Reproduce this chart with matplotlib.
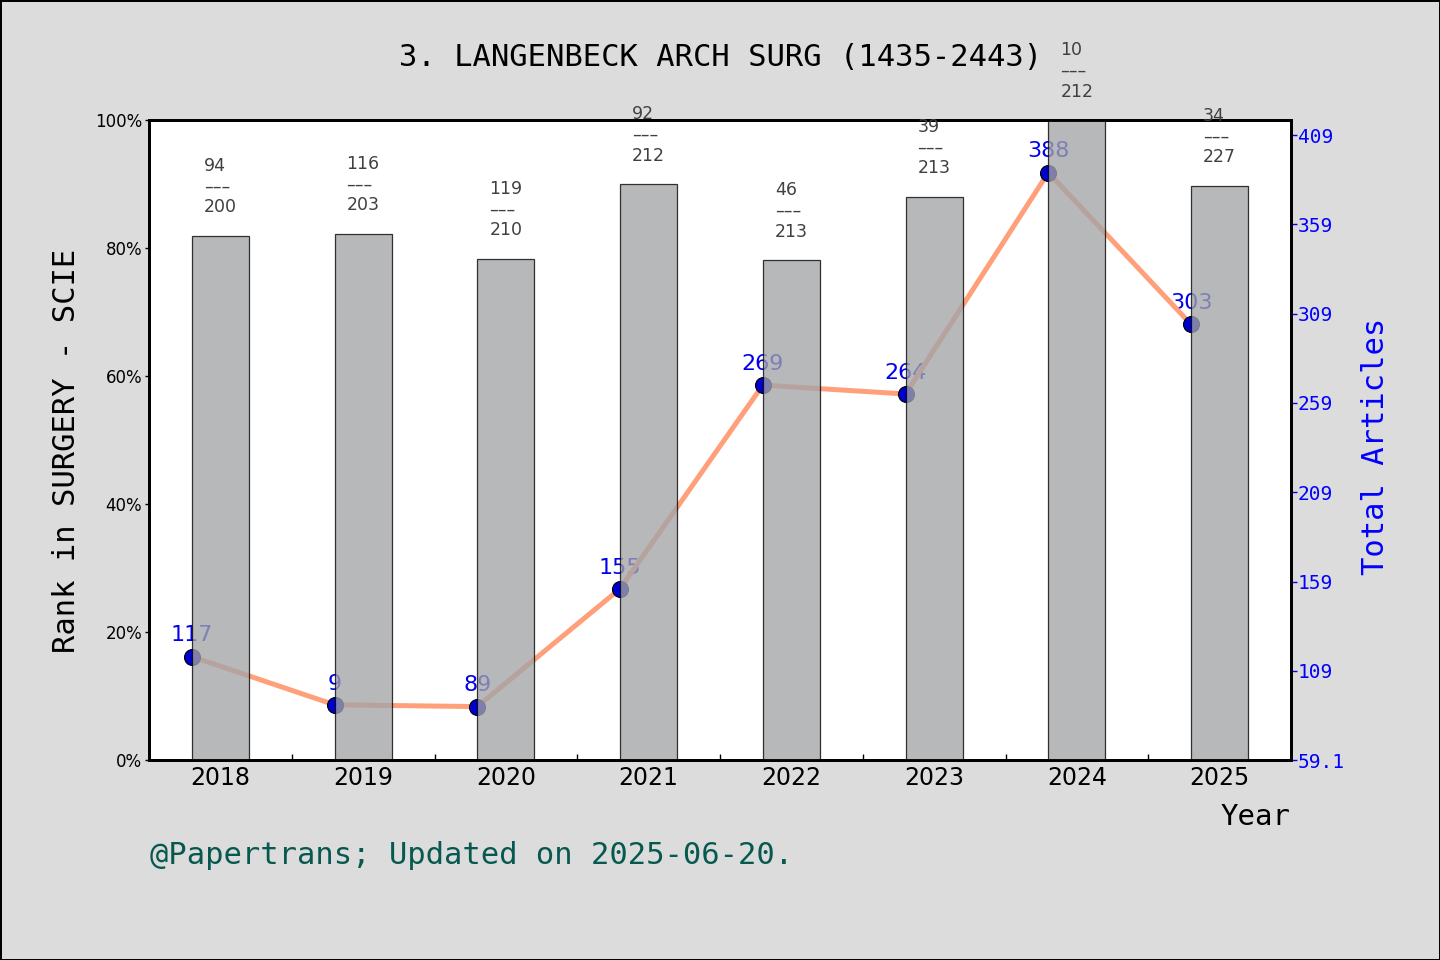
import numpy as np
import matplotlib
matplotlib.use('Agg')
from matplotlib import pyplot as plt
from matplotlib.ticker import PercentFormatter

years = ['2018', '2019', '2020', '2021', '2022', '2023', '2024', '2025']
rank = [94, 116, 119, 92, 46, 39, 10, 34]
total = [200, 203, 210, 212, 213, 213, 212, 227]
rank_pct = [0.819, 0.822, 0.783, 0.900, 0.781, 0.880, 1.000, 0.897]
articles = [117, 90, 89, 155, 269, 264, 388, 303]
article_labels = ['117', '9', '89', '155', '269', '264', '388', '303']
right_ticks = [59.1, 109, 159, 209, 259, 309, 359, 409]
right_tick_labels = ['59.1', '109', '159', '209', '259', '309', '359', '409']

MONO = 'DejaVu Sans Mono'
BG = '#dcdcdc'

fig = plt.figure(figsize=(14.4, 9.6), dpi=100, facecolor=BG,
                 edgecolor='black', linewidth=2)
ax = fig.add_axes([149 / 1440, 1 - 760 / 960, 1142 / 1440, 640 / 960])
ax2 = ax.twinx()
# bars sit on top of the line, like the original
ax.set_zorder(ax2.get_zorder() + 1)
ax.patch.set_visible(False)
ax2.patch.set_visible(True)
ax2.patch.set_facecolor('white')

x = np.arange(len(years))

# line of total articles (right axis)
ax2.plot(x, articles, color='#ffa07a', linewidth=3.6, marker='o',
         markersize=11.5, markerfacecolor='#0000cd', markeredgecolor='black',
         markeredgewidth=0.8, zorder=2)
for xi, yi, s in zip(x, articles, article_labels):
  ax2.annotate(s, (xi, yi), xytext=(0, 8), textcoords='offset points',
               ha='center', va='bottom', fontsize=16, color='#0000ee', zorder=1)
ax2.set_ylim(59.1, 417.4)
ax2.set_yticks(right_ticks)
ax2.set_yticklabels(right_tick_labels, fontfamily=MONO)
ax2.tick_params(axis='y', colors='blue', labelsize=14, length=4, width=1,
                direction='out', pad=1)

# rank bars (left axis)
ax.bar(x, rank_pct, width=0.4, align='edge', color='#a3a4a7', alpha=0.78,
       edgecolor='black', linewidth=0.9)
for xi, h, r, t in zip(x, rank_pct, rank, total):
  ax.annotate('{}\n\u2013\u2013\u2013\n{}'.format(r, t), (xi + 0.2, h), xytext=(0, 14),
              textcoords='offset points', ha='center', va='bottom',
              multialignment='left', fontsize=12.5, color='#404040',
              linespacing=1.2, annotation_clip=False)

ax.set_xlim(-0.3, 7.7)
ax.set_ylim(0, 1)
ax.yaxis.set_major_formatter(PercentFormatter(1.0, decimals=0))
ax.set_yticks([0, 0.2, 0.4, 0.6, 0.8, 1.0])
ax.tick_params(axis='y', labelsize=12, length=3, width=1, direction='out', pad=2)
ax.set_xticks(x + 0.2)
ax.set_xticklabels(years)
ax.set_xticks(x[:-1] + 0.7, minor=True)
ax.tick_params(axis='x', which='major', labelsize=17, length=0, pad=4)
ax.tick_params(axis='x', which='minor', length=4, width=1, direction='in')

for a in (ax, ax2):
  for sp in a.spines.values():
    sp.set_linewidth(2)

fig.text(721 / 1440, 1 - 57 / 960, '3. LANGENBECK ARCH SURG (1435-2443)',
         ha='center', va='center', fontsize=22, fontfamily=MONO)
fig.text(67 / 1440, 1 - 451 / 960, 'Rank in SURGERY - SCIE', rotation=90,
         ha='center', va='center', fontsize=22, fontfamily=MONO)
fig.text(1375 / 1440, 1 - 446 / 960, 'Total Articles', rotation=90,
         ha='center', va='center', fontsize=22, fontfamily=MONO, color='blue')
fig.text(1291 / 1440, 1 - 817 / 960, 'Year', ha='right', va='center',
         fontsize=21, fontfamily=MONO)
fig.text(150 / 1440, 1 - 855 / 960, '@Papertrans; Updated on 2025-06-20.',
         ha='left', va='center', fontsize=22, fontfamily=MONO, color='#07594f')

fig.savefig('out.png', dpi=100)
